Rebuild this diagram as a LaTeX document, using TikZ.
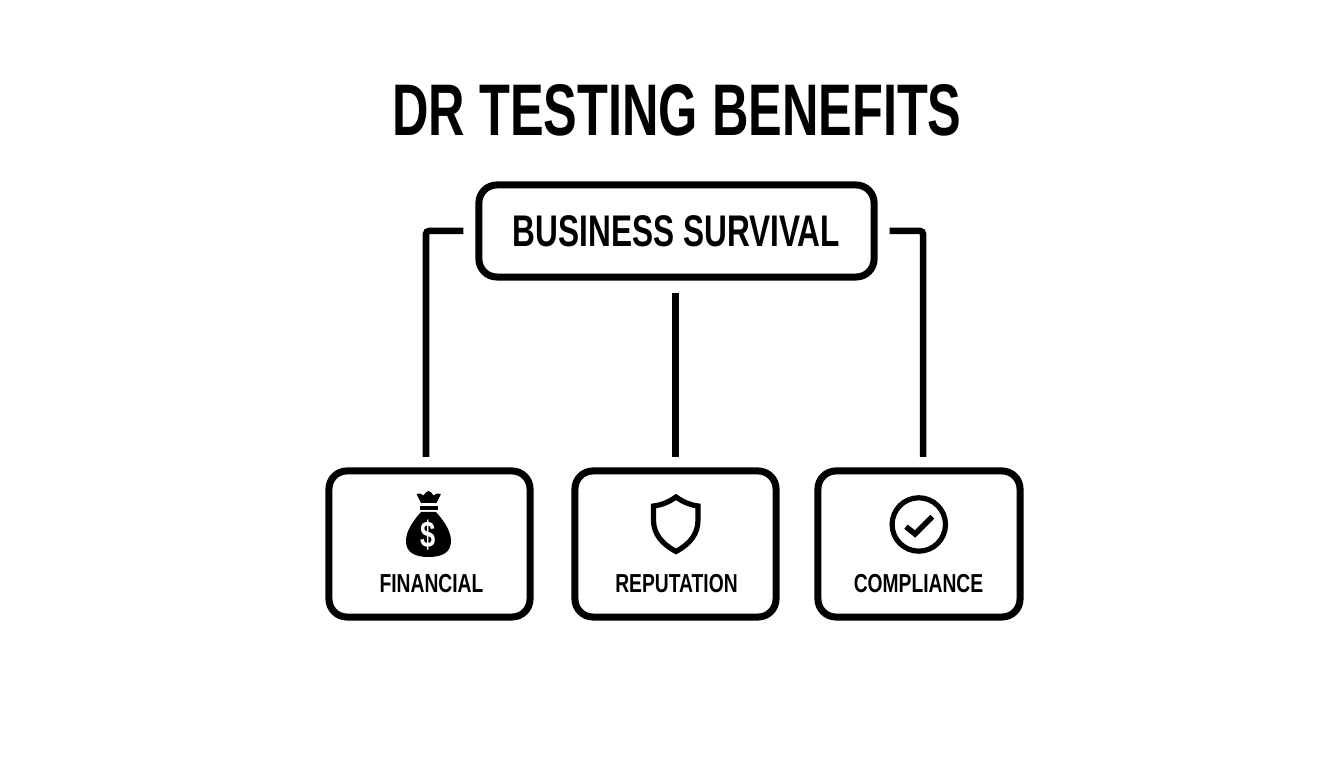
\documentclass[tikz,border=0pt]{standalone}
\usepackage{fontspec}
\setmainfont{Liberation Sans}[FakeStretch=0.74]
\newfontfamily\titlefont{Liberation Sans}[FakeStretch=0.69]
\newfontfamily\rootfont{Liberation Sans}[FakeStretch=0.713]
\tikzset{
    box/.style={draw=black, line width=0.07cm, rounded corners=0.18cm, fill=white},
    link/.style={draw=black, line width=0.065cm, rounded corners=0.03cm, shorten <=0.12cm, shorten >=0.105cm},
    caption/.style={font=\bfseries\fontsize{7.4}{9}\selectfont, inner sep=0pt},
    icon/.style={line width=0.052cm, draw=black}
}
\begin{document}
\begin{tikzpicture}[x=0.01cm, y=-0.01cm]
    \useasboundingbox (0,0) rectangle (1344,768);
    \node[inner sep=0pt, font=\titlefont\bfseries\fontsize{20.8}{25}\selectfont] (title) at (677,110.5) {DR TESTING BENEFITS};
    % boxes
    \node[box, minimum width=3.95cm, minimum height=0.92cm] (survival) at (676.5,231) {};
    \node[box, minimum width=2.01cm, minimum height=1.46cm] (financial) at (429.5,544) {};
    \node[box, minimum width=2.01cm, minimum height=1.46cm] (reputation) at (675.5,544) {};
    \node[box, minimum width=2.02cm, minimum height=1.46cm] (compliance) at (919,544) {};
    \node[inner sep=0pt, font=\rootfont\bfseries\fontsize{12.6}{15}\selectfont] (survivaltext) at (676.5,231.5) {BUSINESS SURVIVAL};
    \node[caption] (financialtext) at (431.5,583.5) {FINANCIAL};
    \node[caption] (reputationtext) at (676.5,583.5) {REPUTATION};
    \node[caption] (compliancetext) at (918.5,583.5) {COMPLIANCE};
    % connectors
    \draw[link] (survival.west) -| ([xshift=-0.035cm]financial.north);
    \draw[link] (survival.south -| reputation.north) -- (reputation.north);
    \draw[link] (survival.east) -| ([xshift=0.04cm]compliance.north);
    % money bag
    \fill (416.5,494) .. controls (420,493) and (422,494) .. (423.5,495.5)
        .. controls (425,493) and (426.5,491.5) .. (428.5,491)
        .. controls (430.5,491.5) and (432,493) .. (433.5,495.5)
        .. controls (435,494) and (437,493) .. (441,494)
        -- (436.5,503) -- (421,503) -- cycle;
    \fill (419.5,506) rectangle (438,510);
    \fill (421,512) -- (436,512) .. controls (444,521) and (451,531) .. (451,541)
        .. controls (451,552) and (443,557) .. (428.5,557)
        .. controls (414,557) and (406,552) .. (406,541)
        .. controls (406,531) and (413,521) .. (421,512) -- cycle;
    \node[inner sep=0pt, text=white, font=\bfseries\fontsize{10.5}{12}\selectfont] (dollar) at (428.5,535) {\$};
    % shield
    \draw[icon, line join=miter] (676,497) .. controls (669,502) and (662,505) .. (653.5,506)
        -- (653.5,520) .. controls (653.5,534) and (662,544) .. (676,551.5)
        .. controls (690,544) and (698,534) .. (698,520)
        -- (698,506) .. controls (690,505) and (683,502) .. (676,497) -- cycle;
    % check mark
    \draw[icon] (918.8,524.5) circle (26.7);
    \draw[line width=0.055cm, line join=miter] (906,526.7) -- (915,534) -- (932.3,516.7);
\end{tikzpicture}
\end{document}
